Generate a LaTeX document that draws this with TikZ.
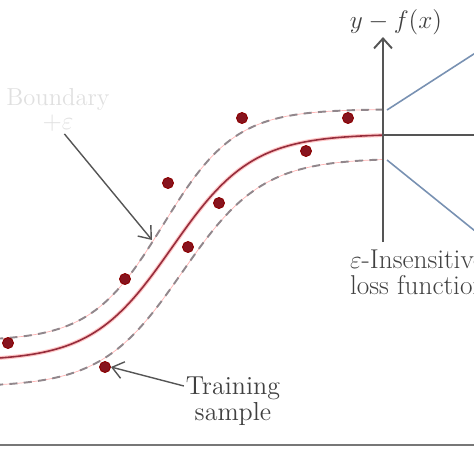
\documentclass[tikz,border=0pt]{standalone}
\usepackage{amsmath}
\usetikzlibrary{arrows.meta, positioning}
\definecolor{dotred}{RGB}{135, 20, 30}
\definecolor{curvered}{RGB}{150, 45, 60}
\definecolor{tubegray}{RGB}{145, 135, 140}
\definecolor{losssteel}{RGB}{120, 145, 178}
\definecolor{axisgray}{RGB}{85, 85, 85}

\begin{document}
\begin{tikzpicture}[
  x=0.02cm, y=-0.02cm,
  every node/.style={font=\fontsize{14}{14}\selectfont, text=black!75},
  sample/.style={circle, fill=dotred, draw=red!55!black, line width=0.5pt, minimum size=0.22cm, inner sep=0pt},
  halo/.style={draw=red!30, line width=0.4pt},
  tube/.style={draw=tubegray, line width=1.1pt, dash pattern=on 4.6pt off 3.6pt},
  glow/.style={draw=red!22, line width=2.2pt},
  fitcurve/.style={draw=curvered, line width=0.9pt},
  axis/.style={draw=axisgray, line width=1.1pt},
  loss/.style={draw=losssteel, line width=0.9pt},
  pointer/.style={-{Straight Barb[length=2.2mm, width=3.4mm]}, draw=axisgray, line width=0.8pt},
  label/.style={align=center, inner sep=1pt}
]
\useasboundingbox (0,0) rectangle (474,474);
\clip (0,0) rectangle (474,474);

% epsilon tube (upper and lower)
\draw[halo] plot[domain=-5:383, samples=90] (\x, {225 - 116*tanh((\x-163)/72)});
\draw[tube] plot[domain=-5:383, samples=90] (\x, {225 - 116*tanh((\x-163)/72)});
\draw[halo] plot[domain=-5:383, samples=90] (\x, {272.5 - 114.5*tanh((\x-182)/80)});
\draw[tube] plot[domain=-5:383, samples=90] (\x, {272.5 - 114.5*tanh((\x-182)/80)});

% regression curve
\draw[glow] plot[domain=-5:383, samples=90] (\x, {247.5 - 113.5*tanh((\x-172)/80)});
\draw[fitcurve] plot[domain=-5:383, samples=90] (\x, {247.5 - 113.5*tanh((\x-172)/80)});

% training samples
\node[sample] (s1) at (8,343) {};
\node[sample] (s2) at (105,367) {};
\node[sample] (s3) at (125,279) {};
\node[sample] (s4) at (168,183) {};
\node[sample] (s5) at (188,247) {};
\node[sample] (s6) at (219,203) {};
\node[sample] (s7) at (242,118) {};
\node[sample] (s8) at (306,151) {};
\node[sample] (s9) at (348,118) {};

% loss function axes
\coordinate (origin) at (383,135);
\coordinate (ytop) at (383,37);
\coordinate (ybot) at (383,242);
\coordinate (xend) at (480,135);
\coordinate (epsup) at (387,110);
\coordinate (epslo) at (387,160);
\coordinate (lossup) at (480,50);
\coordinate (losslo) at (480,235);

\draw[loss] (epsup) -- (lossup);
\draw[loss] (epslo) -- (losslo);
\draw[axis] (origin) -- (xend);
\draw[axis, -{Straight Barb[length=2mm, width=3.6mm]}] (ybot) -- (ytop);

% labels
\node[label] (yaxis) at (396,22) {$y - f(x)$};
\node[label, anchor=west, align=left, font=\fontsize{15.5}{15}\selectfont] (lossname) at (348,272) {$\varepsilon$-Insensitive\\loss function};
\node[label, font=\fontsize{14.8}{15}\selectfont] (trainlbl) at (233,401) {Training\\sample};
\node[label, text=black!12] (tubelbl) at (58,110) {Boundary\\$+\varepsilon$};
\coordinate (tubept) at (152,240);

\draw[pointer] (trainlbl.163) -- (s2.east);
\draw[pointer] (tubelbl.-75) -- (tubept);

% base line
\coordinate (baseL) at (0,445);
\coordinate (baseR) at (474,445);
\draw[draw=axisgray!80, line width=1.7pt] (baseL) -- (baseR);

\end{tikzpicture}
\end{document}
